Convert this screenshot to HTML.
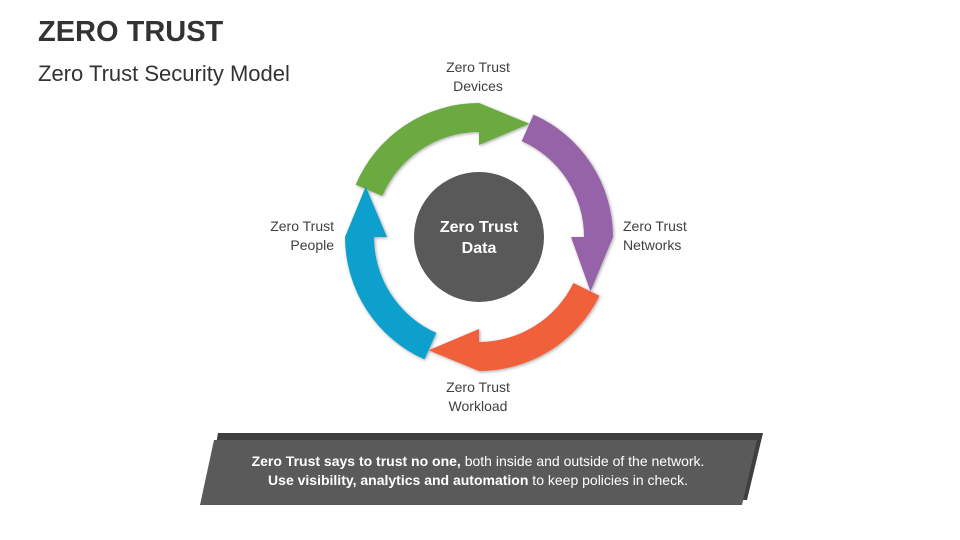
<!DOCTYPE html>
<html><head><meta charset="utf-8"><style>
body{margin:0;width:960px;height:540px;background:#fff;overflow:hidden;font-family:"Liberation Sans",sans-serif;position:relative}
.t{position:absolute;color:#404040;font-size:14px;line-height:19px}
</style></head><body>
<div style="position:absolute;left:38px;top:16px;font-size:29px;font-weight:bold;color:#333">ZERO TRUST</div>
<div style="position:absolute;left:38px;top:61px;font-size:22px;color:#333">Zero Trust Security Model</div>
<div class="t" style="left:408px;top:58px;width:140px;text-align:center">Zero Trust<br>Devices</div>
<div class="t" style="left:623px;top:217px">Zero Trust<br>Networks</div>
<div class="t" style="left:408px;top:378px;width:140px;text-align:center">Zero Trust<br>Workload</div>
<div class="t" style="left:194px;top:217px;width:140px;text-align:right">Zero Trust<br>People</div>
<svg width="960" height="540" style="position:absolute;left:0;top:0" id="s">
<defs><filter id="sh" x="-20%" y="-20%" width="140%" height="140%"><feDropShadow dx="1" dy="1" stdDeviation="1.5" flood-color="#000" flood-opacity="0.35"/></filter></defs>
<g id="ring" filter="url(#sh)"></g>
<circle cx="479" cy="237" r="65" fill="#595959"/>
<text x="479" y="232" text-anchor="middle" fill="#fff" font-weight="bold" font-size="16" font-family="Liberation Sans">Zero Trust</text>
<text x="479" y="253" text-anchor="middle" fill="#fff" font-weight="bold" font-size="16" font-family="Liberation Sans">Data</text>
<polygon points="218,433 763,433 747,500 206,500" fill="#3f3f3f"/>
<polygon points="214,440 757,440 742,505 200,505" fill="#5a5a5a"/>
<text x="478" y="466" text-anchor="middle" fill="#fff" font-size="14" font-family="Liberation Sans"><tspan font-weight="bold">Zero Trust says to trust no one,</tspan> both inside and outside of the network.</text>
<text x="478" y="485" text-anchor="middle" fill="#fff" font-size="14" font-family="Liberation Sans"><tspan font-weight="bold">Use visibility, analytics and automation</tspan> to keep policies in check.</text>
</svg>
<script>
var cx=479,cy=237,R=134,r=105,ri=92,rt=124;
function p(a,rad){a=a*Math.PI/180;return (cx+rad*Math.cos(a)).toFixed(1)+","+(cy+rad*Math.sin(a)).toFixed(1);}
var segs=[[202,270,294,"#6aaa40"],[293,360,386,"#9664a8"],[25,90,114,"#f0603a"],[113,180,204,"#0ea0cc"]];
var h="";
segs.forEach(function(s){var t=s[0]+1,b=s[1],tp=s[2];
h+='<path fill="'+s[3]+'" d="M'+p(t,R)+' A'+R+','+R+' 0 0 1 '+p(b,R)+' L'+p(tp,rt)+' L'+p(b,ri)+' L'+p(b,r)+' A'+r+','+r+' 0 0 0 '+p(t,r)+' Z"/>';});
document.getElementById("ring").innerHTML=h;
</script>
</body></html>
